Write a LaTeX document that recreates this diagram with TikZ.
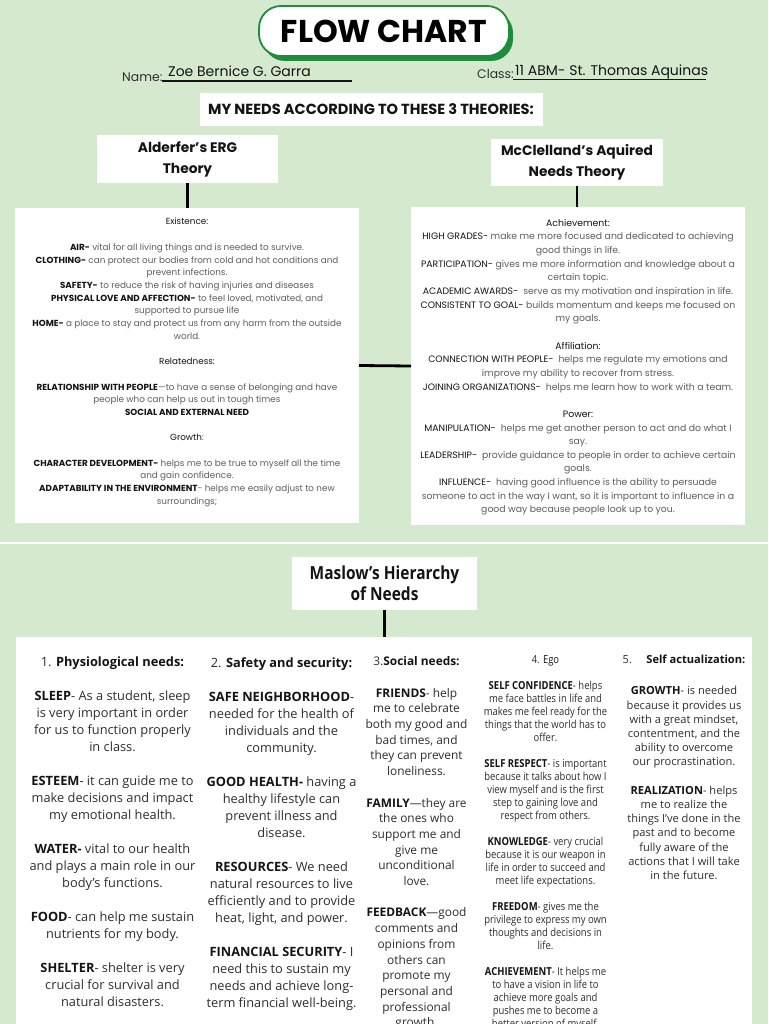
\documentclass[tikz,border=0pt]{standalone}
\usepackage{fontspec}
\setmainfont{Open Sans}
\newfontfamily\quick{Poppins}
\newfontfamily\canvacond[FakeStretch=0.86]{Open Sans}
\usetikzlibrary{positioning,calc}
\definecolor{bgmint}{HTML}{D5E9CF}
\definecolor{leaf}{HTML}{1E8C3C}
\definecolor{inkdark}{HTML}{141414}
\definecolor{inkgray}{HTML}{5E5E5E}
\definecolor{inkbody}{HTML}{2E2E2E}
\newcommand{\kw}[1]{{\bfseries\color{inkdark}#1}}
\newcommand{\km}[1]{{\color{inkdark}#1}}
\tikzset{
  card/.style={fill=white,inner sep=0pt,outer sep=0pt},
  link/.style={line width=2.8pt,black},
  theory/.style={card,align=center,text=inkdark,font={\quick\bfseries\fontsize{13.8}{21}\selectfont}},
  ergtxt/.style={align=center,inner sep=0pt,text=inkgray,font={\quick\fontsize{8.8}{12.7}\selectfont}},
  mcctxt/.style={align=center,inner sep=0pt,text=inkgray,font={\quick\fontsize{9.3}{13.65}\selectfont}},
  colA/.style={align=center,inner sep=0pt,text=inkbody,font={\fontsize{12.8}{17}\selectfont}},
  colB/.style={align=center,inner sep=0pt,text=inkbody,font={\fontsize{11.9}{15.7}\selectfont}},
  colC/.style={align=center,inner sep=0pt,text=inkbody,font={\canvacond\fontsize{11}{13}\selectfont}},
  colD/.style={align=center,inner sep=0pt,text=inkbody,font={\fontsize{11.1}{14.2}\selectfont}},
  field/.style={anchor=base west,inner sep=0pt,font={\quick\fontsize{14}{16}\selectfont}},
  fieldlbl/.style={field,text=inkbody,font={\quick\fontsize{12.4}{14}\selectfont}}
}

\begin{document}
\begin{tikzpicture}[x=1pt,y=-1pt]
  \useasboundingbox (0,0) rectangle (768,1024);
  \fill[bgmint] (0,0) rectangle (768,1024);
  \clip (0,0) rectangle (768,1024);
  % title
  \fill[leaf,rounded corners=22pt] (263,11) rectangle (513,61);
  \node[draw=leaf,line width=1.8pt,fill=white,rounded corners=22pt,minimum width=250pt,minimum height=50pt,inner sep=0pt,
        font={\quick\bfseries\fontsize{31.5}{32}\selectfont}] (title) at (384,31) {\raisebox{-2pt}{FLOW CHART}};
  % name and class
  \node[fieldlbl] (namelbl) at (122,82) {Name:};
  \node[field,text=inkdark] (nameval) at (168,77) {Zoe Bernice G. Garra};
  \draw[line width=1.4pt,inkdark] (162,81) -- (352,81);
  \node[fieldlbl] (classlbl) at (477,79) {Class:};
  \node[field,text=inkdark] (classval) at (515,76) {11 ABM- St. Thomas Aquinas};
  \draw[line width=1.1pt,inkdark] (513,79.5) -- (706,79.5);
  % theories
  \node[card,minimum width=343pt,minimum height=33pt,text=inkdark,font={\quick\bfseries\fontsize{14.6}{15}\selectfont}]
        (needs) at (371,109.5) {MY NEEDS ACCORDING TO THESE 3 THEORIES:};
  \node[theory,minimum width=181pt,minimum height=48pt] (alderfer) at (187.5,159) {Alderfer’s ERG\\Theory};
  \node[theory,minimum width=172pt,minimum height=47pt] (mcc) at (577,162.5) {McClelland’s Aquired\\Needs Theory};
  \node[card,minimum width=344pt,minimum height=315pt] (erg) at (187,365.5) {};
  \node[card,minimum width=334pt,minimum height=318pt] (mccbox) at (578,366) {};
  \node[ergtxt,anchor=north] (ergtext) at (187,218) {%
    \km{Existence:}\\[\baselineskip]
    \kw{AIR-} vital for all living things and is needed to survive.\\
    \kw{CLOTHING-} can protect our bodies from cold and hot conditions and\\
    prevent infections.\\
    \kw{SAFETY-} to reduce the risk of having injuries and diseases\\
    \kw{PHYSICAL LOVE AND AFFECTION-} to feel loved, motivated, and\\
    supported to pursue life\\
    \kw{HOME-} a place to stay and protect us from any harm from the outside\\
    world.\\[\baselineskip]
    \km{Relatedness:}\\[\baselineskip]
    \kw{RELATIONSHIP WITH PEOPLE}—to have a sense of belonging and have\\
    people who can help us out in tough times\\
    \kw{SOCIAL AND EXTERNAL NEED}\\[\baselineskip]
    \km{Growth}:\\[\baselineskip]
    \kw{CHARACTER DEVELOPMENT-} helps me to be true to myself all the time\\
    and gain confidence.\\
    \kw{ADAPTABILITY IN THE ENVIRONMENT}- helps me easily adjust to new\\
    surroundings;};
  \node[mcctxt,anchor=north] (mcctext) at (578,219) {%
    \km{Achievement:}\\
    \km{HIGH GRADES-} make me more focused and dedicated to achieving\\
    good things in life.\\
    \km{PARTICIPATION-} gives me more information and knowledge about a\\
    certain topic.\\
    \km{ACADEMIC AWARDS-}\ \ serve as my motivation and inspiration in life.\\
    \km{CONSISTENT TO GOAL-} builds momentum and keeps me focused on\\
    my goals.\\[\baselineskip]
    \km{Affiliation:}\\
    \km{CONNECTION WITH PEOPLE-}\ \ helps me regulate my emotions and\\
    improve my ability to recover from stress.\\
    \km{JOINING ORGANIZATIONS-}\ \ helps me learn how to work with a team.\\[\baselineskip]
    \km{Power:}\\
    \km{MANIPULATION-}\ \ helps me get another person to act and do what I\\
    say.\\
    \km{LEADERSHIP-}\ \ provide guidance to people in order to achieve certain\\
    goals.\\
    \km{INFLUENCE-}\ \ having good influence is the ability to persuade\\
    someone to act in the way I want, so it is important to influence in a\\
    good way because people look up to you.};
  \draw[link] (alderfer.south) -- (alderfer.south |- erg.north);
  \draw[link] (mcc.south) -- (mcc.south |- mccbox.north);
  \draw[link] (erg.east) -- (mccbox.west);
  % separator
  \draw[white,line width=1.2pt] (0,543) -- (768,543);
  % maslow
  \node[card,minimum width=185pt,minimum height=53pt,align=center,text=inkdark,
        font={\canvacond\bfseries\fontsize{18}{21}\selectfont}] (maslow) at (384.5,583.5) {Maslow’s Hierarchy\\of Needs};
  \node[card,minimum width=736pt,minimum height=430pt,anchor=north] (hier) at (384,637) {};
  \draw[link] (maslow.south) -- (maslow.south |- hier.north);
  \node[colA,anchor=north] (physio) at (112.5,657) {%
    1. \kw{Physiological needs:}\\[\baselineskip]
    \kw{SLEEP}- As a student, sleep\\
    is very important in order\\
    for us to function properly\\
    in class.\\[\baselineskip]
    \kw{ESTEEM}- it can guide me to\\
    make decisions and impact\\
    my emotional health.\\[\baselineskip]
    \kw{WATER-} vital to our health\\
    and plays a main role in our\\
    body's functions.\\[\baselineskip]
    \kw{FOOD}- can help me sustain\\
    nutrients for my body.\\[\baselineskip]
    \kw{SHELTER}- shelter is very\\
    crucial for survival and\\
    natural disasters.};
  \node[colA,anchor=north] (safety) at (281.5,657) {%
    2. \kw{Safety and security:}\\[\baselineskip]
    \kw{SAFE NEIGHBORHOOD}-\\
    needed for the health of\\
    individuals and the\\
    community.\\[\baselineskip]
    \kw{GOOD HEALTH-} having a\\
    healthy lifestyle can\\
    prevent illness and\\
    disease.\\[\baselineskip]
    \kw{RESOURCES}- We need\\
    natural resources to live\\
    efficiently and to provide\\
    heat, light, and power.\\[\baselineskip]
    \kw{FINANCIAL SECURITY}- I\\
    need this to sustain my\\
    needs and achieve long-\\
    term financial well-being.};
  \node[colB,anchor=north] (social) at (416.5,656.5) {%
    3.\kw{Social needs:}\\[\baselineskip]
    \kw{FRIENDS}- help\\
    me to celebrate\\
    both my good and\\
    bad times, and\\
    they can prevent\\
    loneliness.\\[\baselineskip]
    \kw{FAMILY}—they are\\
    the ones who\\
    support me and\\
    give me\\
    unconditional\\
    love.\\[\baselineskip]
    \kw{FEEDBACK}—good\\
    comments and\\
    opinions from\\
    others can\\
    promote my\\
    personal and\\
    professional\\
    growth.};
  \node[colC,anchor=north] (ego) at (545.5,655.5) {%
    4. {\color{inkdark}Ego}\\[\baselineskip]
    \kw{SELF CONFIDENCE}- helps\\
    me face battles in life and\\
    makes me feel ready for the\\
    things that the world has to\\
    offer.\\[\baselineskip]
    \kw{SELF RESPECT}- is important\\
    because it talks about how I\\
    view myself and is the first\\
    step to gaining love and\\
    respect from others.\\[\baselineskip]
    \kw{KNOWLEDGE}- very crucial\\
    because it is our weapon in\\
    life in order to succeed and\\
    meet life expectations.\\[\baselineskip]
    \kw{FREEDOM}- gives me the\\
    privilege to express my own\\
    thoughts and decisions in\\
    life.\\[\baselineskip]
    \kw{ACHIEVEMENT}- It helps me\\
    to have a vision in life to\\
    achieve more goals and\\
    pushes me to become a\\
    better version of myself.};
  \node[colD,anchor=north] (selfact) at (684,655) {%
    5.\hspace{1.3em}\kw{Self actualization:}\\[17pt]
    \kw{GROWTH}- is needed\\
    because it provides us\\
    with a great mindset,\\
    contentment, and the\\
    ability to overcome\\
    our procrastination.\\[\baselineskip]
    \kw{REALIZATION}- helps\\
    me to realize the\\
    things I’ve done in the\\
    past and to become\\
    fully aware of the\\
    actions that I will take\\
    in the future.};
\end{tikzpicture}
\end{document}
